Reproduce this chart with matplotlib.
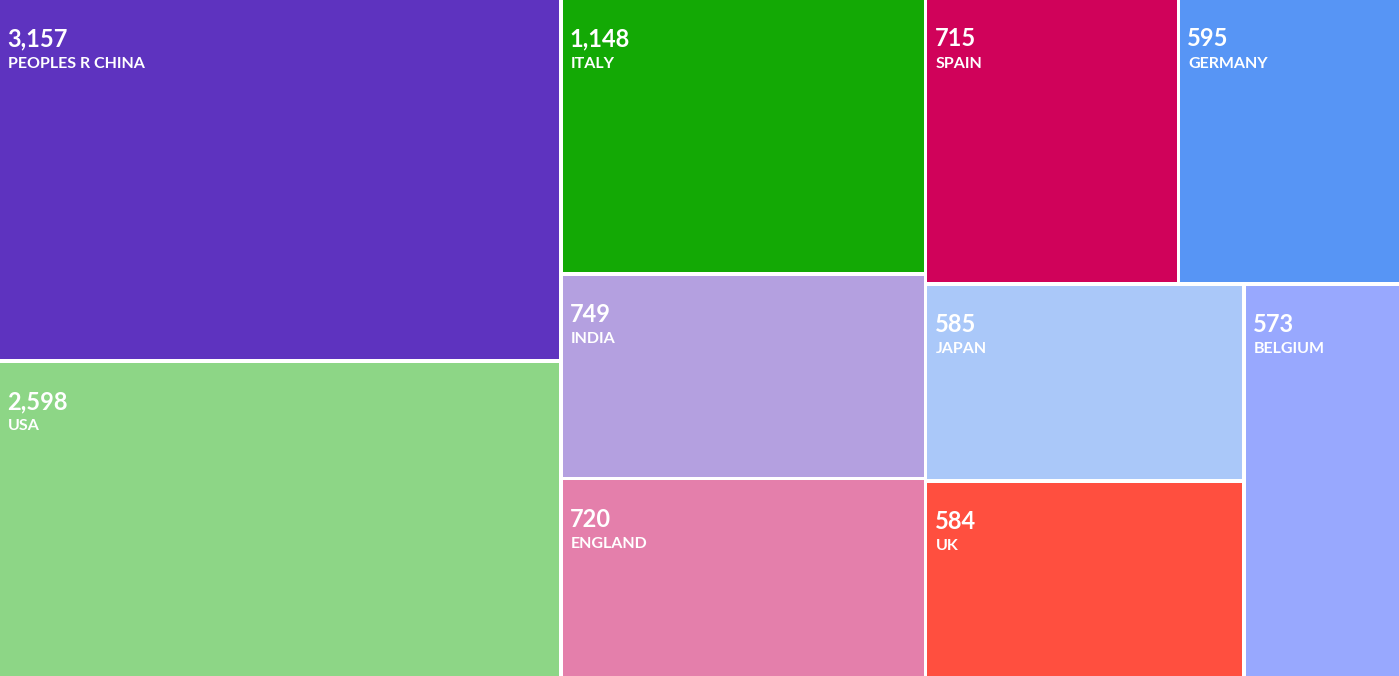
import matplotlib.pyplot as plt
from matplotlib.patches import Rectangle

# === Datos ===
paises = ["PEOPLES R CHINA", "USA", "ITALY", "INDIA", "ENGLAND",
          "SPAIN", "GERMANY", "JAPAN", "UK", "BELGIUM"]
registros = [3157, 2598, 1148, 749, 720, 715, 595, 585, 584, 573]
colores = ["#5e33bf", "#8dd686", "#13a905", "#b4a0e0", "#e47fab",
           "#d0025a", "#5795f5", "#aac8f9", "#ff4f3f", "#98a8fe"]

# Estructura del treemap: ('h', ...) reparte a lo ancho, ('v', ...) a lo alto
estructura = ('h', [
    ('v', [0, 1]),
    ('v', [2, 3, 4]),
    ('v', [
        ('h', [5, 6]),
        ('h', [('v', [7, 8]), 9]),
    ]),
])

AREA_EXP = 0.7   # escala de area (comprimida, como en la figura original)
W, H = 1399, 676
GAP = 3.5


def peso(nodo):
    if isinstance(nodo, int):
        return registros[nodo] ** AREA_EXP
    return sum(peso(n) for n in nodo[1])


def dividir(nodo, x, y, w, h, salida):
    """Reparte el rectangulo (x, y, w, h) entre los hijos segun su peso."""
    if isinstance(nodo, int):
        salida[nodo] = (x, y, w, h)
        return
    orient, hijos = nodo
    total = sum(peso(n) for n in hijos)
    pos = x if orient == 'h' else y
    for n in hijos:
        frac = peso(n) / total
        if orient == 'h':
            dividir(n, pos, y, w * frac, h, salida)
            pos += w * frac
        else:
            dividir(n, x, pos, w, h * frac, salida)
            pos += h * frac


rects = {}
dividir(estructura, 0, 0, W, H, rects)

fig = plt.figure(figsize=(13.99, 6.76), dpi=100)
ax = fig.add_axes([0, 0, 1, 1])
ax.set_xlim(GAP / 2, W - GAP / 2)
ax.set_ylim(H - GAP / 2, GAP / 2)
ax.axis('off')

for i, nombre in enumerate(paises):
    x, y, w, h = rects[i]
    ax.add_patch(Rectangle((x + GAP / 2, y + GAP / 2), w - GAP, h - GAP,
                           facecolor=colores[i], edgecolor='none'))
    ax.text(x + 9, y + 48, f"{registros[i]:,}", color='white', fontsize=17,
            fontweight='bold', family='Lato', va='baseline', ha='left')
    ax.text(x + 10, y + 69, nombre, color='white', fontsize=11.5,
            fontweight='bold', family='Lato', va='baseline', ha='left')

fig.savefig("out.png", dpi=100, facecolor='white')
